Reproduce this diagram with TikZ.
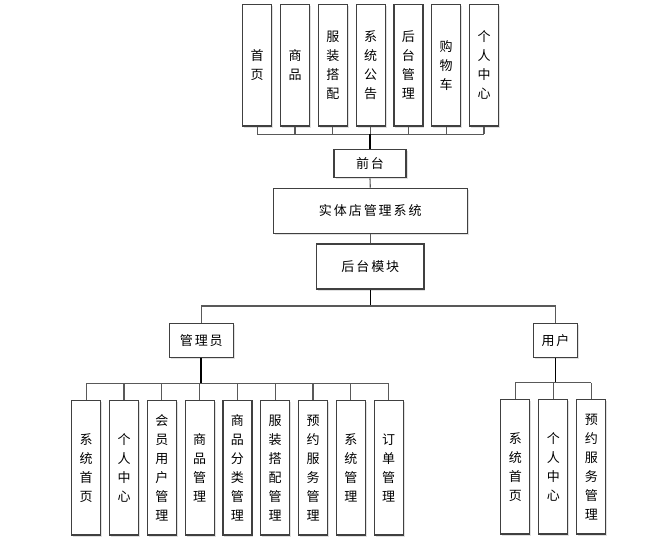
\documentclass[tikz,border=0pt]{standalone}
\usepackage{fontspec}
\setmainfont{Noto Sans CJK SC}
\usetikzlibrary{shadows}

\tikzset{
	box/.style={draw=black!75, line width=1.2pt, fill=white, inner sep=0pt,
		font=\fontsize{13}{19}\selectfont,
		drop shadow={shadow xshift=1.5pt, shadow yshift=-1.5pt, fill=black, opacity=0.12}},
	colbox/.style={box, align=center, minimum width=29pt},
	rowbox/.style={box, font=\fontsize{13}{19}\selectfont\addfontfeature{LetterSpace=15}},
	link/.style={draw=black!65, line width=1.1pt},
	trunk/.style={draw=black, line width=1.8pt}
}

\begin{document}
\begin{tikzpicture}[x=1pt, y=-1pt]
	
	\useasboundingbox (0,0) rectangle (651,550);
	
	% FRONT END PAGES
	\foreach \i/\txt in {0/{首\\页}, 1/{商\\品}, 2/{服\\装\\搭\\配}, 3/{系\\统\\公\\告},
		4/{后\\台\\管\\理}, 5/{购\\物\\车}, 6/{个\\人\\中\\心}}
	\node[colbox, minimum height=121.7pt] (top\i) at (257.2+37.8*\i, 65.2) {\txt};
	
	% MAIN BLOCKS
	\node[rowbox, minimum width=72pt, minimum height=28.4pt] (front) at (370, 163.5) {前台};
	\node[rowbox, minimum width=194pt, minimum height=45pt] (system) at (370.3, 210.8) {实体店管理系统};
	\node[rowbox, minimum width=107.3pt, minimum height=45pt] (back) at (370.3, 266.5) {后台模块};
	\node[rowbox, minimum width=64pt, minimum height=34pt] (admin) at (201.3, 340.3) {管理员};
	\node[rowbox, minimum width=44.4pt, minimum height=34.4pt] (user) at (555.5, 340.5) {用户};
	
	% ADMIN MODULES
	\foreach \i/\txt in {0/{系\\统\\首\\页}, 1/{个\\人\\中\\心}, 2/{会\\员\\用\\户\\管\\理},
		3/{商\\品\\管\\理}, 4/{商\\品\\分\\类\\管\\理}, 5/{服\\装\\搭\\配\\管\\理},
		6/{预\\约\\服\\务\\管\\理}, 7/{系\\统\\管\\理}, 8/{订\\单\\管\\理}}
	\node[colbox, minimum height=134.3pt] (adm\i) at (86.2+37.8*\i, 467.9) {\txt};
	
	% USER MODULES
	\foreach \i/\txt in {0/{系\\统\\首\\页}, 1/{个\\人\\中\\心}, 2/{预\\约\\服\\务\\管\\理}}
	\node[colbox, minimum height=134.7pt] (usr\i) at (515.3+38*\i, 466.7) {\txt};
	
	% BUS LINES
	\coordinate (topbus) at (370, 134.3);
	\coordinate (midbus) at (370, 306);
	\coordinate (admbus) at (201.3, 383.3);
	\coordinate (usrbus) at (555.5, 382.7);
	
	\foreach \i in {0,...,6}
	\draw[link] (top\i.south) -- (top\i.south |- topbus);
	\draw[link] (top0.south |- topbus) -- (top6.south |- topbus);
	\draw[trunk] (front.north) -- (front.north |- topbus);
	
	\draw[link] (front.south) -- (system.north);
	\draw[link] (system.south) -- (back.north);
	\draw[trunk, line width=1.3pt] (back.south) -- (back.south |- midbus);
	\draw[link] (admin.north) -- (admin.north |- midbus) -- (user.north |- midbus) -- (user.north);
	
	\draw[trunk] (admin.south) -- (admin.south |- admbus);
	\draw[link] (adm0.north |- admbus) -- (adm8.north |- admbus);
	\foreach \i in {0,...,8}
	\draw[link] (adm\i.north) -- (adm\i.north |- admbus);
	
	\draw[trunk, line width=1.3pt] (user.south) -- (user.south |- usrbus);
	\draw[link] (usr0.north |- usrbus) -- (usr2.north |- usrbus);
	\foreach \i in {0,...,2}
	\draw[link] (usr\i.north) -- (usr\i.north |- usrbus);
	
\end{tikzpicture}
\end{document}
